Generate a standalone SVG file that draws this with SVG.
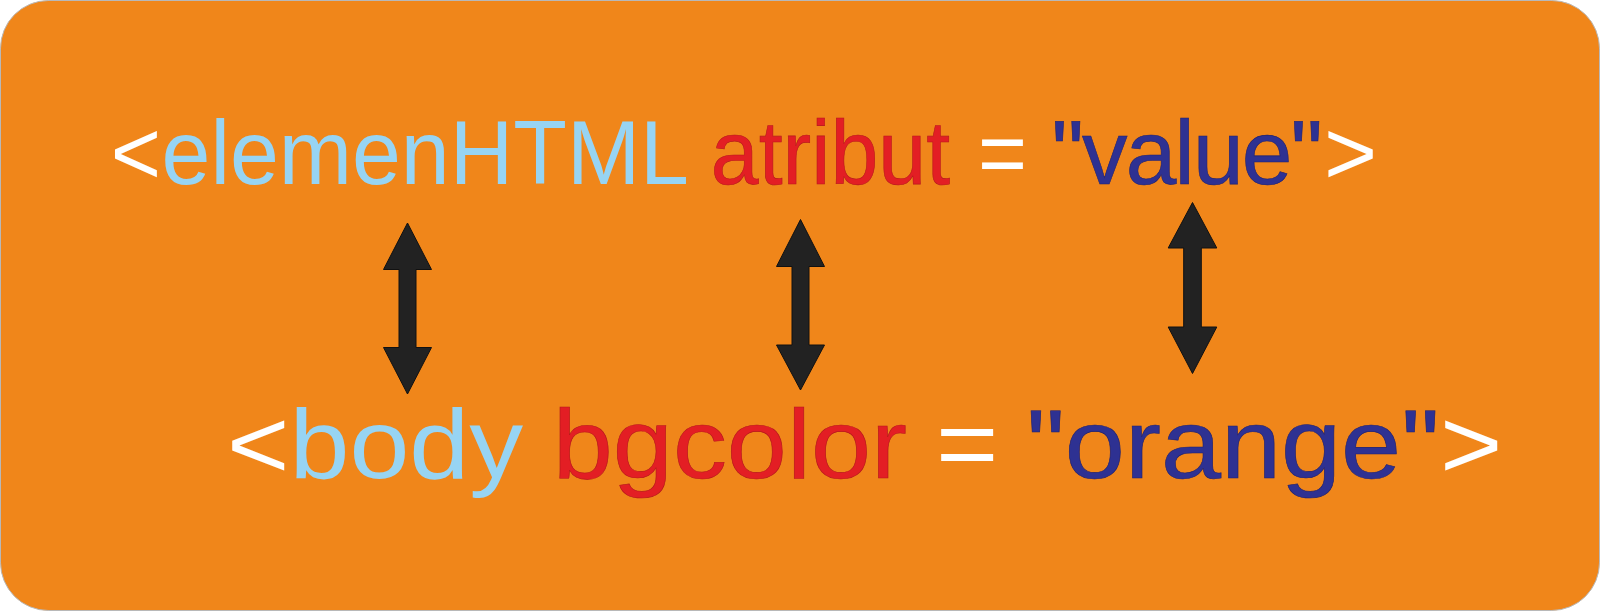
<svg xmlns="http://www.w3.org/2000/svg" width="1600" height="611" viewBox="0 0 1600 611">
  <style>
    .t { font-family: "Liberation Sans", Arial, sans-serif; }
    .l1 { font-size: 91px; }
    .l2 { font-size: 98px; }
    .w { fill: #ffffff; stroke: none; }
    .lb { fill: #97d4f3; }
    .rd { fill: #e31e24; stroke: #b5161c; stroke-width: 0.6; }
    .db { fill: #2e3192; stroke: #1f2170; stroke-width: 0.6; }
    .arr { fill: #222222; stroke: #111111; stroke-width: 1; stroke-linejoin: miter; }
  </style>
  <rect x="0.5" y="0.5" width="1599" height="610" rx="48" ry="48" fill="#f0861a" stroke="#b8b8b8" stroke-width="1"/>

  <g id="line1" class="t l1">
    <text class="w" x="110.8" y="184" textLength="50.3" lengthAdjust="spacingAndGlyphs">&lt;</text>
    <text class="lb" x="161.5" y="184" textLength="527.5" lengthAdjust="spacingAndGlyphs">elemenHTML</text>
    <text class="rd" x="710.8" y="184" textLength="239.3" lengthAdjust="spacingAndGlyphs">atribut</text>
    <text class="w" x="978" y="184" textLength="49" lengthAdjust="spacingAndGlyphs">=</text>
    <text class="db" x="1051.5" y="184" letter-spacing="-1.8">"value"</text>
    <text class="w" x="1324" y="184">&gt;</text>
  </g>

  <g id="line2" class="t l2">
    <text class="w" x="226.9" y="478" textLength="62.4" lengthAdjust="spacingAndGlyphs">&lt;</text>
    <text class="lb" x="289.5" y="478" textLength="233.6" lengthAdjust="spacingAndGlyphs">body</text>
    <text class="rd" x="552.8" y="478" textLength="354.1" lengthAdjust="spacingAndGlyphs">bgcolor</text>
    <text class="w" x="935.9" y="478" textLength="62.4" lengthAdjust="spacingAndGlyphs">=</text>
    <text class="db" x="1026.5" y="478" textLength="413" lengthAdjust="spacingAndGlyphs">"orange"</text>
    <text class="w" x="1440" y="478" textLength="62.4" lengthAdjust="spacingAndGlyphs">&gt;</text>
  </g>

  <g id="connectors">
    <path id="arrow-element" class="arr" d="M407.5,223 L431.5,269.5 L416,269.5 L416,347.5 L431.5,347.5 L407.5,394 L383.5,347.5 L399,347.5 L399,269.5 L383.5,269.5 Z"/>
    <path id="arrow-attribute" class="arr" d="M800.5,219.5 L824.5,266.5 L809,266.5 L809,345 L824.5,345 L800.5,390 L776.5,345 L792,345 L792,266.5 L776.5,266.5 Z"/>
    <path id="arrow-value" class="arr" d="M1192.5,202.5 L1216.8,248 L1201.3,248 L1201.3,327 L1216.8,327 L1192.5,373.5 L1168.2,327 L1183.7,327 L1183.7,248 L1168.2,248 Z"/>
  </g>
</svg>
